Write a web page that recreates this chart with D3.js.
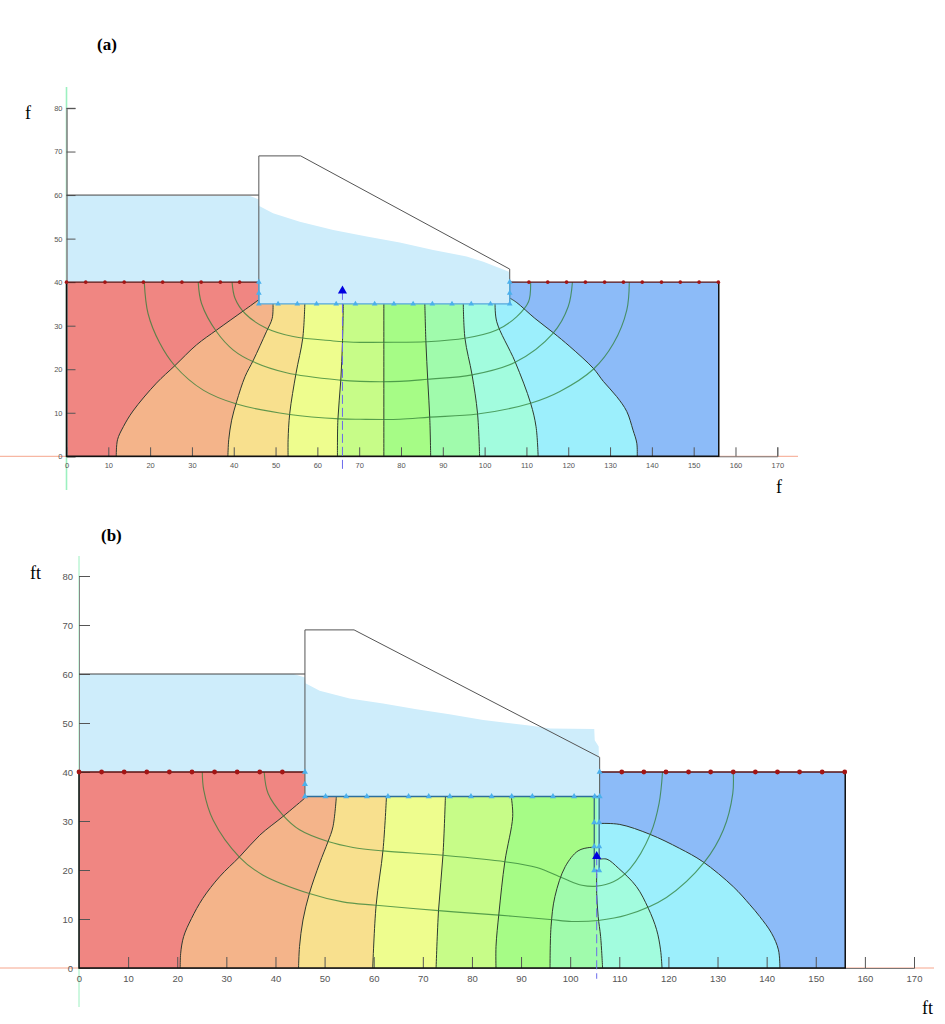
<!DOCTYPE html>
<html><head><meta charset="utf-8">
<script src="https://cdnjs.cloudflare.com/ajax/libs/d3/7.8.5/d3.min.js"></script>
<style>html,body{margin:0;padding:0;background:#fff}svg{display:block}</style>
</head><body><svg id="c" width="945" height="1024"></svg>
<script>
const xTicks=[0,10,20,30,40,50,60,70,80,90,100,110,120,130,140,150,160,170];
const yTicks=[0,10,20,30,40,50,60,70,80];
const bandColors=["#F08682","#F4B48A","#F8E08E","#EEFD8E","#C7FC88","#A6FC86","#A0FBAC","#A2FCDE","#9CEFFC"];
const soilBlue="#8CBBF8", waterBlue="#CEEDFB";

// panel (a)
const aContours=[
[[45.9,35.9],[42.3,33.4],[35.9,29],[31.1,25.6],[25.9,20.8],[21.5,16.8],[15.9,10.4],[13.6,6.8],[12.2,3.8],[11.9,0]],
[[49.4,35],[49.2,31.7],[47.8,28.6],[44.7,22.1],[42.7,18.3],[40.7,12.6],[39.5,8.3],[38.8,3.8],[38.6,0]],
[[57,35],[56.5,27.1],[54.9,19.1],[53.4,9.9],[53,3.8],[53,0]],
[[66.2,35],[66,26],[65.6,17.5],[64.9,8.3],[64.8,0]],
[[75.9,35],[75.9,18],[75.9,0]],
[[85.7,35],[85.97,26],[86.4,17.5],[86.9,8.3],[87.1,0]],
[[94.9,35],[95.3,27.1],[97,18.7],[98.3,9.9],[98.8,0]],
[[102.5,35],[102.9,30.9],[107.3,21.7],[111,12.2],[112.3,6.8],[112.8,0]],
[[106.1,36.3],[107.7,35.3],[112,31.7],[116.4,28.4],[120.4,25.2],[126,20.2],[128.4,17.2],[131.6,13.7],[134,10.3],[135.5,6],[136.4,3],[136.5,0]]
];
const aFlows=[
[[39.6,40],[40.3,36.3],[42.7,32.8],[47.8,29.4],[54.2,27.5],[63.8,26.5],[68.6,26.2],[79.7,26.2],[85.7,26.3],[95.3,27.1],[102.9,29],[107.7,32.1],[110.5,35.5],[111,40]],
[[31.5,40],[32.3,35.1],[35.9,28.6],[39.9,24.4],[44.7,21.7],[52.6,19.2],[65.4,17.5],[70.2,17.2],[79.7,17.2],[86.4,17.7],[97,18.7],[107.3,21.6],[116.4,28.3],[120,34.4],[121,40]],
[[18.6,40],[19.5,32.8],[22.3,26],[25.9,20.8],[32.7,15.2],[40.7,12],[53.4,9.6],[65.4,8.6],[70.2,8.5],[79.7,8.5],[86.9,9],[98.3,9.7],[111,12.2],[118,14.9],[126,20],[130.8,25.9],[134,33.6],[134.6,40]]
];
const aWater=[[0,40],[0,60],[43.9,59.8],[46,59],[46.1,57.5],[49.4,55.8],[55.8,53.9],[63.8,52],[71.8,50.5],[79.7,49.1],[87.7,47.4],[95.7,45.9],[99.7,44.7],[103.7,43.2],[105.8,42.4],[106,40.4],[110,40],[106,40],[106,35],[46,35],[46,40]];
const aDots=[0,4.6,9.2,13.8,18.4,23,27.6,32.2,36.8,41.4,110.6,115.1,119.6,124.1,128.7,133.2,137.7,142.3,146.8,151.3,155.9];
const aTris=[[46,40],[46,37.5],[46,35],[50.6,35],[55.2,35],[59.8,35],[64.5,35],[69.1,35],[73.7,35],[78.3,35],[82.9,35],[87.5,35],[92.2,35],[96.8,35],[101.4,35],[106,35],[106,37.5],[106,40]];

// panel (b)
const bContours=[
[[45.9,34.6],[41.5,30.9],[36.8,27.1],[32.7,22.7],[28.6,18.6],[25.2,14.2],[22.9,10.1],[21.3,6.4],[20.7,3],[20.6,0]],
[[52.4,35],[51.7,28.8],[50.7,25.8],[49,21.4],[46.9,15.2],[45.6,9.8],[44.9,4.4],[44.7,0]],
[[62.6,35],[61.9,24.1],[60.5,12.9],[59.8,0]],
[[74.6,35],[74.1,23],[73.2,11.8],[72.7,0]],
[[88,35],[88.3,30.9],[86.7,21.7],[85.5,11.2],[84.9,4.4],[84.9,0]],
[[105,24.6],[104,24.6],[101.6,23.9],[99,20.7],[96.9,14.6],[96.1,8.4],[95.9,0]],
[[105.4,19.3],[105.4,15.2],[105.7,10.5],[106.2,6.4],[106.6,0]],
[[106,22.2],[107.5,22.2],[109.9,20.3],[113.5,16.6],[115.9,12.2],[117.6,7.8],[118.4,3.7],[118.7,0]],
[[106,29.5],[110.1,29.3],[116.2,27.3],[122.3,24.4],[127,21.7],[133.2,16.6],[136.6,12.9],[138.6,10.5],[141,7.1],[142.4,3.7],[142.7,0]]
];
const bFlows=[
[[37.7,40],[38.5,35.6],[41.5,31.2],[44.9,28.2],[50.7,25.8],[55.8,24.6],[61.9,23.9],[74.1,23],[86.7,21.7],[93.2,20.5],[98.6,18.3],[102.4,16.9],[105.4,16.7],[108.8,17.6],[112.2,20.3],[116.4,27.5],[118.1,33.6],[118.8,40]],
[[25.1,40],[25.4,36.3],[27.3,30.2],[32.7,22.6],[37.4,19],[46.9,15.2],[53.7,13.5],[60.5,12.8],[73.2,11.7],[85.5,10.8],[95.9,9.9],[100.3,9.5],[105.7,9.7],[111.5,10.8],[119.6,14.4],[127.4,21.7],[131.2,28.2],[133.1,35.6],[133.2,40]]
];
const bWater=[[0,40],[0,60],[43.7,60],[46,59.3],[46.1,58.1],[49,56.6],[55.1,55],[61.9,54],[68.7,52.8],[75.4,51.8],[82.3,50.6],[92.5,49.4],[95.9,48.9],[104.9,48.8],[105,46.5],[105.8,45.2],[105.9,40.4],[106,35],[46,35],[46,40]];
const bDots=[0,4.6,9.2,13.8,18.4,23,27.6,32.2,36.8,41.4,110.5,115,119.5,124.1,128.6,133.2,137.7,142.2,146.7,151.3,155.9];
const bTris=[[46,40],[46,37.5],[46,35],[50.2,35],[54.4,35],[58.6,35],[62.9,35],[67.1,35],[71.2,35],[75.5,35],[79.8,35],[84,35],[88.1,35],[92.3,35],[96.5,35],[100.8,35],[105,35],[106,35],[106,40],[104.9,29.7],[105.9,29.7],[104.9,24.8],[105.9,24.8],[104.9,19.9],[105.9,19.9]];

const damCrest=[[0,60],[46,60]];
const damOutline=[[46,35],[46,69],[56,69],[106,43],[106,35]];
const svg=d3.select("#c");
const serif="'Liberation Serif',serif", sans="'Liberation Sans',Arial,sans-serif";

function panel(o){
  const x=d3.scaleLinear().domain([0,170]).range([o.x0,o.x170]);
  const y=d3.scaleLinear().domain([0,80]).range([o.y0,o.y80]);
  const g=svg.append("g");
  const curve=d3.line().x(d=>x(d[0])).y(d=>y(d[1])).curve(d3.curveCatmullRom.alpha(0.5));
  const straight=d3.line().x(d=>x(d[0])).y(d=>y(d[1]));

  g.append("line").attr("x1",0).attr("x2",o.orangeEnd).attr("y1",y(0)).attr("y2",y(0)).attr("stroke","#F6A58C").attr("stroke-width",1);
  g.append("line").attr("x1",x(0)).attr("x2",x(0)).attr("y1",o.greenTop).attr("y2",o.greenBottom).attr("stroke","#9CF0C0").attr("stroke-width",o.greenW);

  g.append("rect").attr("x",x(0)).attr("y",y(40)).attr("width",x(156)-x(0)).attr("height",y(0)-y(40)).attr("fill",soilBlue);
  for(let i=o.contours.length-1;i>=0;i--){
    const c=o.contours[i];
    const head=straight([[0,0],[0,40],[c[0][0],40]]);
    g.append("path").attr("d",head+"L"+curve(c).slice(1)+"Z").attr("fill",bandColors[i]);
  }
  g.append("path").attr("d",straight(o.water)+"Z").attr("fill",waterBlue);

  const ax=d3.axisBottom(x).tickValues(xTicks).tickFormat(d3.format("d")).tickSize(-o.tick).tickPadding(o.pad);
  const ay=d3.axisLeft(y).tickValues(yTicks).tickFormat(d3.format("d")).tickSize(-o.tick).tickPadding(o.padY);
  const gx=g.append("g").attr("transform",`translate(0,${y(0)})`).call(ax);
  const gy=g.append("g").attr("transform",`translate(${x(0)},0)`).call(ay);
  [gx,gy].forEach(a=>{
    a.selectAll("text").attr("font-family",sans).attr("font-size",o.fs).attr("fill","#555");
    a.selectAll(".tick line").attr("stroke","#555").attr("stroke-width",1);
  });
  gx.select(".domain").attr("stroke","#777").attr("stroke-width",1);
  gy.select(".domain").attr("stroke","#888").attr("stroke-width",o.yAxisW);

  o.contours.forEach(c=>g.append("path").attr("d",curve(c)).attr("fill","none").attr("stroke","#2f3a2f").attr("stroke-width",1));
  o.flows.forEach(c=>g.append("path").attr("d",curve(c)).attr("fill","none").attr("stroke","#2f7f35").attr("stroke-opacity",0.75).attr("stroke-width",1.1));

  g.append("path").attr("d",straight([[0,40],[0,0],[156,0],[156,40]])).attr("fill","none").attr("stroke","#111").attr("stroke-width",1.5);
  g.append("path").attr("d",straight([[0,40],[46,40]])).attr("fill","none").attr("stroke","#5a1010").attr("stroke-width",1.4);
  g.append("path").attr("d",straight([[106,40],[156,40]])).attr("fill","none").attr("stroke","#5a1010").attr("stroke-width",1.4);

  g.append("path").attr("d",straight(damCrest)).attr("fill","none").attr("stroke","#444").attr("stroke-width",1);
  g.append("path").attr("d",straight(damOutline)).attr("fill","none").attr("stroke","#555").attr("stroke-width",1);
  g.append("path").attr("d",straight(o.base)).attr("fill","none").attr("stroke",o.baseColor).attr("stroke-width",o.baseW);
  if(o.pile) g.append("path").attr("d",straight(o.pile)+"Z").attr("fill","none").attr("stroke","#2d5f86").attr("stroke-width",1.2);

  g.selectAll(".tri").data(o.tris).join("path").attr("d",d3.symbol(d3.symbolTriangle,o.triSize))
    .attr("transform",d=>`translate(${x(d[0])},${y(d[1])})`).attr("fill","#4BB0EC");
  g.selectAll(".dot").data(o.dots).join("circle").attr("cx",d=>x(d)).attr("cy",y(40)).attr("r",o.dotR).attr("fill","#A31515");

  g.append("line").attr("x1",x(o.ax)).attr("x2",x(o.ax)).attr("y1",y(o.aTop)).attr("y2",y(o.aBot)).attr("stroke","#6a6aec").attr("stroke-width",1).attr("stroke-dasharray","9,4");
  g.append("path").attr("d",d3.symbol(d3.symbolTriangle,o.arrow)).attr("transform",`translate(${x(o.ax)},${y(o.aTop)})`).attr("fill","#0000E0");
}

panel({x0:66.5,x170:777.3,y0:456.3,y80:108,tick:9,pad:6,padY:4,fs:7.5,yAxisW:1.6,
  orangeEnd:798,greenTop:87,greenBottom:490,greenW:1.6,contours:aContours,flows:aFlows,water:aWater,
  base:[[46,40],[46,35],[106,35],[106,40]],baseColor:"#55A8DC",baseW:1.3,tris:aTris,dots:aDots,triSize:14,dotR:1.8,ax:66,aTop:38,aBot:-3.2,arrow:36});
panel({x0:79,x170:914,y0:968,y80:576,tick:11,pad:7,padY:6,fs:9.5,yAxisW:1,
  orangeEnd:934,greenTop:556,greenBottom:1007,greenW:1,contours:bContours,flows:bFlows,water:bWater,
  base:[[46,35],[106,35]],baseColor:"#2d6f9c",baseW:1.4,pile:[[104.9,35],[104.9,19.9],[105.9,19.9],[105.9,35]],tris:bTris,dots:bDots,triSize:16,dotR:2.4,ax:105.4,aTop:22.8,aBot:-2.2,arrow:36});

const labels=[
 {t:"(a)",x:97,y:50,w:"bold",s:17},{t:"f",x:25,y:119,w:"normal",s:18},{t:"f",x:776,y:493,w:"normal",s:18},
 {t:"(b)",x:101,y:541,w:"bold",s:17},{t:"ft",x:30,y:579,w:"normal",s:18},{t:"ft",x:922,y:1014,w:"normal",s:18}];
svg.selectAll(".lab").data(labels).join("text").text(d=>d.t).attr("x",d=>d.x).attr("y",d=>d.y)
  .attr("font-family",serif).attr("font-weight",d=>d.w).attr("font-size",d=>d.s).attr("fill","#000");
</script></body></html>
